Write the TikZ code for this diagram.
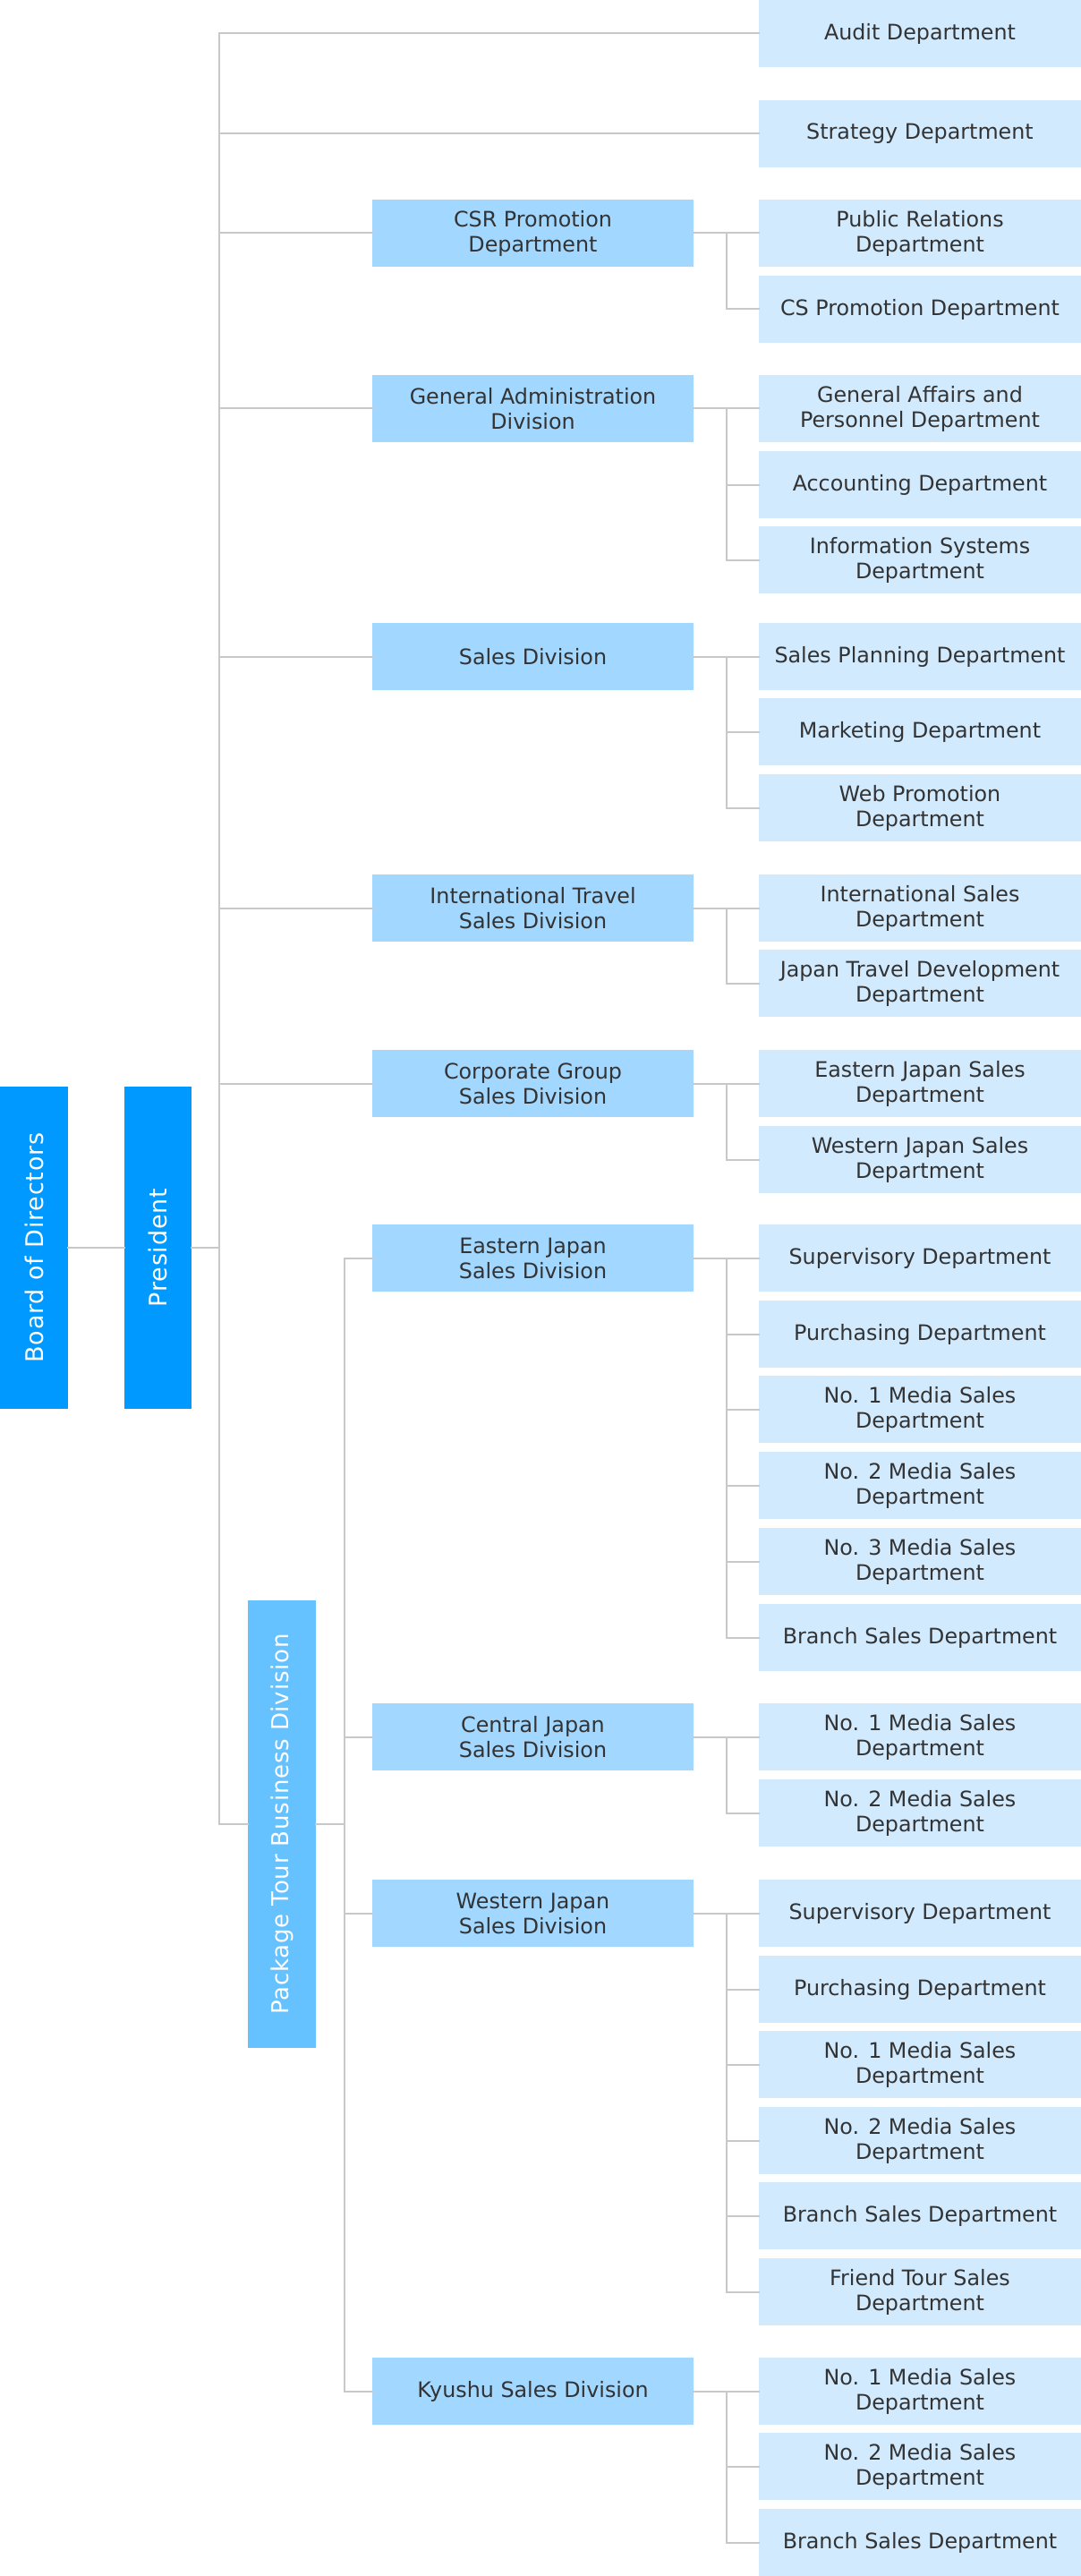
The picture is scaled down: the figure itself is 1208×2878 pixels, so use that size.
\documentclass[tikz,border=0pt]{standalone}
\usepackage{fontspec}
\setmainfont{DejaVu Sans}
\newfontfamily\orgvert[LetterSpace=3]{DejaVu Sans}
\usetikzlibrary{positioning,calc}
\definecolor{orgTop}{HTML}{0099FF}
\definecolor{orgPkg}{HTML}{66C2FF}
\definecolor{orgDiv}{HTML}{A2D7FF}
\definecolor{orgDept}{HTML}{D1EAFE}
\definecolor{orgLine}{HTML}{C8C8C8}
\definecolor{orgText}{HTML}{333333}
\tikzset{
  head/.style={
    fill=orgTop, text=white, rotate=90, minimum width=#1, minimum height=38pt,
    inner sep=0pt, font=\orgvert\fontsize{13.5}{16}\selectfont},
  head/.default=180pt,
  pkg/.style={
    head=250pt, fill=orgPkg, font=\orgvert\fontsize{13}{16}\selectfont},
  division/.style={
    fill=orgDiv, text=orgText, minimum width=#1, minimum height=37.5pt,
    inner sep=0pt, align=center, font=\fontsize{11.9}{14}\selectfont},
  division/.default=179.5pt,
  dept/.style={division=#1, fill=orgDept},
  dept/.default=180pt,
  link/.style={draw=orgLine, line width=1pt, line cap=rect},
}
\begin{document}
\begin{tikzpicture}[x=0.5pt, y=-0.5pt]

\useasboundingbox[fill=white] (0,0) rectangle (1208,2878);

\node[head] (board) at (38,1394) {Board of Directors};
\node[head=180pt, minimum height=37.5pt] (pres) at (176.5,1394) {President};
\node[pkg] (pkg) at (315,2038) {Package Tour Business Division};

\node[division] (csr) at (595.5,260.5) {CSR Promotion\\Department};
\node[division] (gad) at (595.5,456.5) {General Administration\\Division};
\node[division] (sad) at (595.5,733.5) {Sales Division};
\node[division] (itd) at (595.5,1014.5) {International Travel\\Sales Division};
\node[division] (cgd) at (595.5,1210.5) {Corporate Group\\Sales Division};
\node[division] (ejd) at (595.5,1405.5) {Eastern Japan\\Sales Division};
\node[division] (cjd) at (595.5,1940.5) {Central Japan\\Sales Division};
\node[division] (wjd) at (595.5,2137.5) {Western Japan\\Sales Division};
\node[division] (kyd) at (595.5,2671.5) {Kyushu Sales Division};

\node[dept] (audit) at (1028,37.5) {Audit Department};
\node[dept] (strat) at (1028,149.5) {Strategy Department};

\node[dept] (csr1) at (1028,260.5) {Public Relations\\Department};
\node[dept] (csr2) at (1028,345.5) {CS Promotion Department};

\node[dept] (gad1) at (1028,456.5) {General Affairs and\\Personnel Department};
\node[dept] (gad2) at (1028,541.5) {Accounting Department};
\node[dept] (gad3) at (1028,625.5) {Information Systems\\Department};

\node[dept] (sad1) at (1028,733.5) {Sales Planning Department};
\node[dept] (sad2) at (1028,817.5) {Marketing Department};
\node[dept] (sad3) at (1028,902.5) {Web Promotion\\Department};

\node[dept] (itd1) at (1028,1014.5) {International Sales\\Department};
\node[dept] (itd2) at (1028,1098.5) {Japan Travel Development\\Department};

\node[dept] (cgd1) at (1028,1210.5) {Eastern Japan Sales\\Department};
\node[dept] (cgd2) at (1028,1295.5) {Western Japan Sales\\Department};

\node[dept] (ejd1) at (1028,1405.5) {Supervisory Department};
\node[dept] (ejd2) at (1028,1490.5) {Purchasing Department};
\node[dept] (ejd3) at (1028,1574.5) {No. 1 Media Sales\\Department};
\node[dept] (ejd4) at (1028,1659.5) {No. 2 Media Sales\\Department};
\node[dept] (ejd5) at (1028,1744.5) {No. 3 Media Sales\\Department};
\node[dept] (ejd6) at (1028,1829.5) {Branch Sales Department};

\node[dept] (cjd1) at (1028,1940.5) {No. 1 Media Sales\\Department};
\node[dept] (cjd2) at (1028,2025.5) {No. 2 Media Sales\\Department};

\node[dept] (wjd1) at (1028,2137.5) {Supervisory Department};
\node[dept] (wjd2) at (1028,2222.5) {Purchasing Department};
\node[dept] (wjd3) at (1028,2306.5) {No. 1 Media Sales\\Department};
\node[dept] (wjd4) at (1028,2391.5) {No. 2 Media Sales\\Department};
\node[dept] (wjd5) at (1028,2475.5) {Branch Sales Department};
\node[dept] (wjd6) at (1028,2560.5) {Friend Tour Sales\\Department};

\node[dept] (kyd1) at (1028,2671.5) {No. 1 Media Sales\\Department};
\node[dept] (kyd2) at (1028,2755.5) {No. 2 Media Sales\\Department};
\node[dept] (kyd3) at (1028,2840.5) {Branch Sales Department};

% trunks
\coordinate (trunk) at (245,0);
\coordinate (trunk2) at (385,0);

\draw[link] (board) -- (pres);
\draw[link] (pres.south) -- (pres.south -| trunk);
\draw[link] (audit.west -| trunk) -- (pkg.north -| trunk);
\foreach \n in {audit,strat,csr,gad,sad,itd,cgd} {
  \draw[link] (trunk |- \n.west) -- (\n.west);
}
\draw[link] (trunk |- pkg.north) -- (pkg.north);

\draw[link] (pkg.south) -- (pkg.south -| trunk2);
\draw[link] (ejd.west -| trunk2) -- (kyd.west -| trunk2);
\foreach \n in {ejd,cjd,wjd,kyd} {
  \draw[link] (trunk2 |- \n.west) -- (\n.west);
}

\foreach \d/\m in {csr/2,gad/3,sad/3,itd/2,cgd/2,ejd/6,cjd/2,wjd/6,kyd/3} {
  \draw[link] (\d.east) -- (\d1.west);
  \coordinate (\d-s) at ($(\d.east)!0.5!(\d1.west)$);
  \draw[link] (\d-s) |- (\d\m.west);
  \foreach \k in {2,...,\m} {
    \draw[link] (\d-s |- \d\k.west) -- (\d\k.west);
  }
}

\end{tikzpicture}
\end{document}
